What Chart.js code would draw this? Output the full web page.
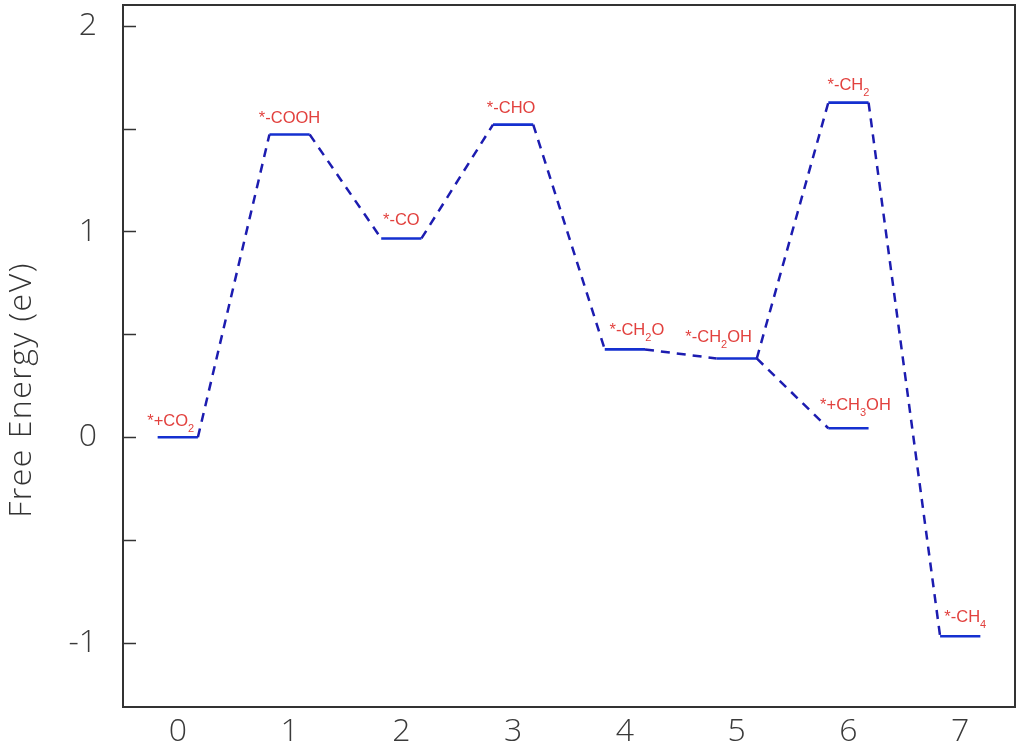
<!DOCTYPE html>
<html><head><meta charset="utf-8">
<script src="https://cdn.jsdelivr.net/npm/chart.js@4.4.0/dist/chart.umd.min.js"></script>
<style>html,body{margin:0;padding:0;background:#fff;} #wrap{width:1025px;height:748px;position:relative;}</style>
</head><body><div id="wrap"><canvas id="c"></canvas></div>
<script>
// ---- data ----
const steps    = [0, 1, 2, 3, 4, 5, 6, 6, 7];
const energies = [0, 1.471, 0.966, 1.519, 0.427, 0.383, 1.626, 0.044, -0.966];
const species  = ['*+CO_2', '*-COOH', '*-CO', '*-CHO', '*-CH_2O', '*-CH_2OH', '*-CH_2', '*+CH_3OH', '*-CH_4'];
const links    = [[0,1],[1,2],[2,3],[3,4],[4,5],[5,6],[5,7],[6,8]];
const xTicks   = [0, 1, 2, 3, 4, 5, 6, 7];
const yTicks   = [-1, -0.5, 0, 0.5, 1, 1.5, 2];
const yLabeled = [-1, 0, 1, 2];
const yTitle   = 'Free Energy (eV)';

// ---- layout / style constants ----
const HALF = 0.18;
const labelShift = [[-7,11],[0,11],[0,13],[-2,12],[12,14],[-18,16],[0,13],[7,18],[5,14]];

const levelData = [];
steps.forEach((s,i)=>{
  levelData.push({x:s-HALF,y:energies[i]},{x:s+HALF,y:energies[i]},{x:s+HALF,y:null});
});
const linkData = [];
links.forEach(([a,b])=>{
  linkData.push({x:steps[a]+HALF,y:energies[a]},{x:steps[b]-HALF,y:energies[b]},{x:steps[b],y:null});
});

const axisFont = {family:"'Open Sans', 'Lato', sans-serif", size:32, weight:'300'};

const decor = {
  id:'decor',
  afterDatasetsDraw(chart){
    const {ctx, chartArea:a, scales:{x,y}} = chart;
    ctx.save();
    // frame
    ctx.strokeStyle='#333'; ctx.lineWidth=2;
    ctx.strokeRect(a.left, a.top, a.right-a.left, a.bottom-a.top);
    // inward ticks
    ctx.lineWidth=1.5;
    yTicks.forEach(v=>{
      const py = Math.round(y.getPixelForValue(v))+0.5;
      ctx.beginPath(); ctx.moveTo(a.left, py); ctx.lineTo(a.left+13, py); ctx.stroke();
    });
    // species labels
    ctx.fillStyle='#e2413e';
    ctx.textBaseline='alphabetic';
    species.forEach((sp,i)=>{
      const parts = [];
      const re = /_(\d)/g; let last=0, m;
      while((m=re.exec(sp))){ if(m.index>last) parts.push({t:sp.slice(last,m.index),sub:false}); parts.push({t:m[1],sub:true}); last=re.lastIndex; }
      if(last<sp.length) parts.push({t:sp.slice(last),sub:false});
      const fMain="16.5px 'Liberation Sans', Arial, sans-serif", fSub="11px 'Liberation Sans', Arial, sans-serif";
      let w=0;
      parts.forEach(p=>{ctx.font=p.sub?fSub:fMain; p.w=ctx.measureText(p.t).width; w+=p.w;});
      const cx = x.getPixelForValue(steps[i]) + labelShift[i][0];
      const by = y.getPixelForValue(energies[i]) - labelShift[i][1];
      let px = cx - w/2;
      parts.forEach(p=>{ctx.font=p.sub?fSub:fMain; ctx.fillText(p.t, px, p.sub? by+6 : by); px+=p.w;});
    });
    // y title
    ctx.fillStyle='#333';
    ctx.font="300 32px 'Open Sans', 'Lato', sans-serif";
    try{ ctx.letterSpacing='1.5px'; }catch(e){}
    ctx.translate(22, 390); ctx.rotate(-Math.PI/2);
    ctx.textAlign='center'; ctx.textBaseline='middle';
    ctx.fillText(yTitle, 0, 0);
    ctx.restore();
  }
};

const noPad = s=>{ s.paddingTop=0; s.paddingBottom=0; s.paddingLeft=0; s.paddingRight=0; };

new Chart(document.getElementById('c'), {
  type:'line',
  data:{datasets:[
    {label:'links', data:linkData, borderColor:'#1c1cb0', borderWidth:2.5, borderDash:[9,7], pointRadius:0, spanGaps:false, fill:false, tension:0},
    {label:'levels', data:levelData, borderColor:'#1530d0', borderWidth:2.6, pointRadius:0, spanGaps:false, fill:false, tension:0}
  ]},
  options:{
    responsive:true, maintainAspectRatio:false, animation:false,
    layout:{padding:{left:0,right:10,top:5,bottom:0}},
    plugins:{legend:{display:false}, tooltip:{enabled:false}},
    scales:{
      x:{type:'linear', min:-0.49, max:7.49,
         afterBuildTicks:s=>{s.ticks = xTicks.map(v=>({value:v}));},
         afterFit:s=>{s.height=41; noPad(s);},
         grid:{display:false, drawTicks:false}, border:{display:false},
         ticks:{padding:6, color:'#3a3a3a', font:axisFont, maxRotation:0, callback:v=>String(v)}},
      y:{type:'linear', min:-1.31, max:2.1,
         afterBuildTicks:s=>{s.ticks = yTicks.map(v=>({value:v}));},
         afterFit:s=>{s.width=123; noPad(s);},
         grid:{display:false, drawTicks:false}, border:{display:false},
         ticks:{padding:26, color:'#3a3a3a', font:axisFont, callback:v=>yLabeled.includes(v)?String(v):''}}
    }
  },
  plugins:[decor]
});
</script></body></html>
